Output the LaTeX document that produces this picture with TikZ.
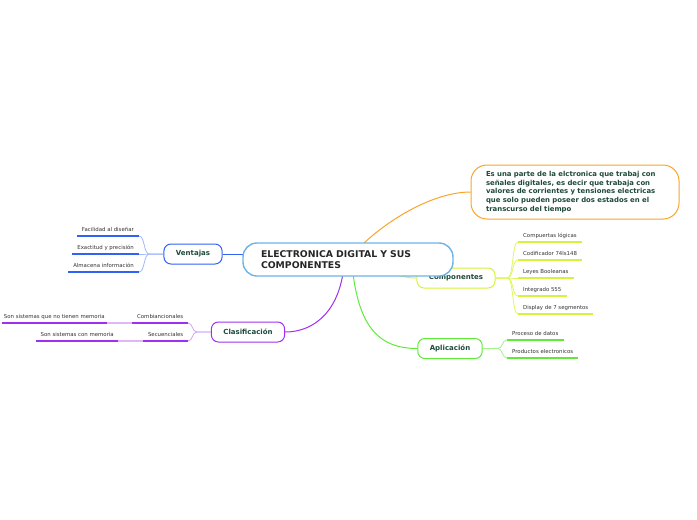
\documentclass[tikz,border=0pt]{standalone}
\usepackage{fontspec}
\setmainfont{DejaVu Sans}
\usetikzlibrary{positioning}
\usetikzlibrary{backgrounds}

\definecolor{txtgreen}{HTML}{1F4A3A}
\definecolor{txtgray}{HTML}{333333}
\definecolor{cmain}{HTML}{6CB4E8}
\definecolor{corange}{HTML}{F9A32A}
\definecolor{cyellow}{HTML}{D7F23B}
\definecolor{cblue}{HTML}{2F62F5}
\definecolor{cpurple}{HTML}{A030F0}
\definecolor{cgreen}{HTML}{5FEA3A}

\begin{document}
\begin{tikzpicture}[
        x=1pt, y=-1pt,
        central/.style={rectangle, draw=cmain, fill=white, line width=1.4pt, rounded corners=14pt, text width=174pt, inner xsep=18pt, minimum height=33pt, align=left, text=black!85, font=\fontsize{9.3}{11}\selectfont\bfseries},
        note/.style={rectangle, draw=corange, fill=white, line width=1pt, rounded corners=16pt, text width=178pt, inner xsep=15pt, minimum height=54pt, align=left, text=txtgreen, font=\fontsize{6.9}{8.7}\selectfont\bfseries},
        topic/.style={rectangle, draw=#1, fill=white, line width=1pt, rounded corners=7pt, inner xsep=12pt, minimum height=20pt, text=txtgreen, font=\fontsize{7}{8}\selectfont\bfseries},
        leaf/.style={inner xsep=5pt, inner ysep=3pt, text height=4pt, text depth=1.2pt, text=txtgray, font=\fontsize{5.4}{6}\selectfont},
        uline/.style={line width=1.5pt},
        branch/.style={line width=0.8pt}
    ]
        \useasboundingbox (0,0) rectangle (697,520);

        % main topics
        \node[note] (desc) at (575,192) {Es una parte de la elctronica que trabaj con\\ señales digitales, es decir que trabaja con\\ valores de corrientes y tensiones electricas\\ que solo pueden poseer dos estados en el\\ transcurso del tiempo};
        \node[topic=cyellow] (comp) at (456,278) {Componentes};
        \node[topic=cblue] (vent) at (193,254) {Ventajas};
        \node[topic=cpurple] (clas) at (248,332) {Clasificación};
        \node[topic=cgreen] (apl) at (450,348.5) {Aplicación};
        \node[central] (main) at (348,259.5) {ELECTRONICA DIGITAL Y SUS\\ COMPONENTES};

        % leaves
        \node[leaf, anchor=south east] (v1) at (139,236) {Facilidad al diseñar};
        \node[leaf, anchor=south east] (v2) at (139,254) {Exactitud y precisión};
        \node[leaf, anchor=south east] (v3) at (139,272) {Almacena información};

        \node[leaf, anchor=south west] (c1) at (518,242) {Compuertas lógicas};
        \node[leaf, anchor=south west] (c2) at (518,260) {Codificador 74ls148};
        \node[leaf, anchor=south west] (c3) at (518,278) {Leyes Booleanas};
        \node[leaf, anchor=south west] (c4) at (518,296) {Integrado 555};
        \node[leaf, anchor=south west] (c5) at (518,314) {Display de 7 segmentos};

        \node[leaf, anchor=south west] (a1) at (507,340) {Proceso de datos};
        \node[leaf, anchor=south west] (a2) at (507,358) {Productos electronicos};

        \node[leaf, anchor=south east, inner xsep=4.5pt] (k1) at (188,323) {Combiancionales};
        \node[leaf, anchor=south east, inner xsep=4.5pt] (k2) at (188,341) {Secuenciales};
        \node[leaf, anchor=south east, inner xsep=2pt] (k1s) at (107,323) {Son sistemas que no tienen memoria};
        \node[leaf, anchor=south east, inner xsep=4pt] (k2s) at (118,341) {Son sistemas con memoria};

        % underlines
        \foreach \c in {v1,v2,v3}
            \draw[uline, cblue] (\c.south west) -- (\c.south east);
        \foreach \c in {c1,c2,c3,c4,c5}
            \draw[uline, cyellow] (\c.south west) -- (\c.south east);
        \foreach \c in {a1,a2}
            \draw[uline, cgreen] (\c.south west) -- (\c.south east);
        \foreach \c in {k1,k2,k1s,k2s}
            \draw[uline, cpurple] (\c.south west) -- (\c.south east);

        \begin{scope}[on background layer]
            % connectors from the main node
            \draw[corange, line width=1pt] (main.center) .. controls +(30,-35) and +(-40,0) .. (desc.west);
            \draw[cyellow, line width=1pt] (main.center) .. controls +(40,0) and +(-30,0) .. (comp.west);
            \draw[cblue, line width=1pt] (vent.east) -- (vent.east -| main.center);
            \draw[cpurple, line width=1pt] (344,265) .. controls +(-4,45) and +(30,0) .. (clas.east);
            \draw[cgreen, line width=1pt] (352,265) .. controls +(6,60) and +(-40,0) .. (apl.west);

            % branches to the leaves
            \foreach \c in {v1,v2,v3}
                \draw[branch, cblue!45] (vent.west) -- ++(-14,0) .. controls +(-6,0) and +(6,0) .. (\c.south east);
            \foreach \c in {c1,c2,c3,c4,c5}
                \draw[branch, cyellow!80] (comp.east) -- ++(12,0) .. controls +(6,0) and +(-6,0) .. (\c.south west);
            \foreach \c in {a1,a2}
                \draw[branch, cgreen!60] (apl.east) -- ++(15,0) .. controls +(5,0) and +(-5,0) .. (\c.south west);
            \foreach \c in {k1,k2}
                \draw[branch, cpurple!45] (clas.west) -- ++(-14,0) .. controls +(-5,0) and +(5,0) .. (\c.south east);
            \draw[uline, cpurple!35] (k1.south west) -- (k1s.south east);
            \draw[uline, cpurple!35] (k2.south west) -- (k2s.south east);
        \end{scope}
    \end{tikzpicture}
\end{document}
